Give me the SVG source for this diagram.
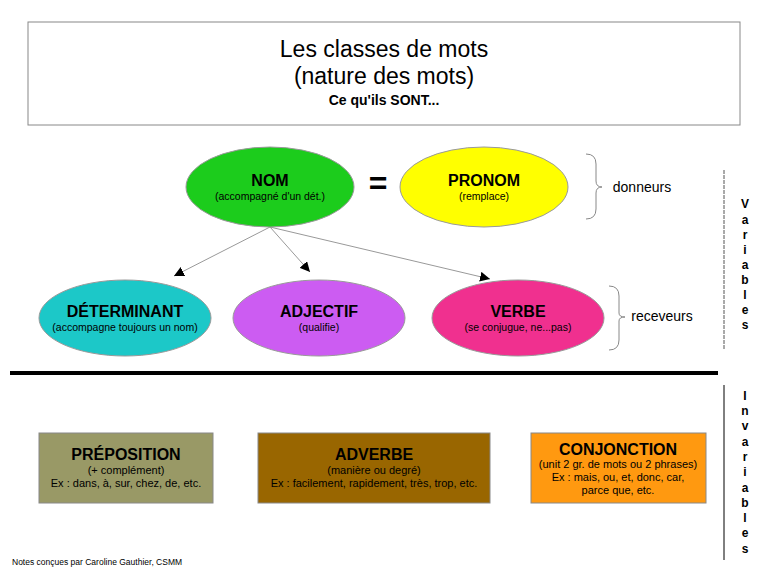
<svg xmlns="http://www.w3.org/2000/svg" width="768" height="575" viewBox="0 0 768 575">
<defs>
<style>
text{font-family:"Liberation Sans",Arial,sans-serif;text-anchor:middle;fill:#000}
.t{font-size:16px;font-weight:bold}
.s{font-size:10.5px}
.b{font-size:11px}
.v{font-size:12px;font-weight:bold}
.br{fill:none;stroke:#888;stroke-width:1}
.e{stroke:#999;stroke-width:1}
.r{stroke:#888;stroke-width:1}
</style>
<marker id="a" viewBox="0 0 10 10" refX="10" refY="5" markerWidth="10" markerHeight="10" orient="auto" markerUnits="userSpaceOnUse"><path d="M0,0L10,5L0,10Z" fill="#000"/></marker>
</defs>
<rect width="768" height="575" fill="#fff"/>
<g id="title">
<rect x="28" y="22" width="712" height="103" fill="#fff" stroke="#888"/>
<text x="384" y="57" style="font-size:23px">Les classes de mots</text>
<text x="384" y="84" style="font-size:23px">(nature des mots)</text>
<text x="384" y="105" style="font-size:14px;font-weight:bold">Ce qu'ils SONT...</text>
</g>
<g id="connectors" stroke="#999" stroke-width="1">
<line x1="270" y1="227" x2="174" y2="276" marker-end="url(#a)"/>
<line x1="270" y1="227" x2="310" y2="272" marker-end="url(#a)"/>
<line x1="270" y1="227" x2="490" y2="279" marker-end="url(#a)"/>
</g>
<g id="nom"><ellipse cx="270" cy="187" rx="84" ry="40" fill="#1ccc1c" class="e"/>
<text x="270" y="186" class="t">NOM</text><text x="270" y="200" class="s">(accompagné d'un dét.)</text></g>
<text x="378" y="194" style="font-size:32px;font-weight:bold">=</text>
<g id="pronom"><ellipse cx="484" cy="187" rx="84" ry="40" fill="#ffff00" class="e"/>
<text x="484" y="186" class="t">PRONOM</text><text x="484" y="200" class="s">(remplace)</text></g>
<g id="determinant"><ellipse cx="125" cy="318" rx="86" ry="38" fill="#1cc8c8" class="e"/>
<text x="125" y="317" class="t">DÉTERMINANT</text><text x="125" y="331" class="s">(accompagne toujours un nom)</text></g>
<g id="adjectif"><ellipse cx="319" cy="318" rx="86" ry="38" fill="#cc5cf2" class="e"/>
<text x="319" y="317" class="t">ADJECTIF</text><text x="319" y="331" class="s">(qualifie)</text></g>
<g id="verbe"><ellipse cx="518" cy="318" rx="86" ry="38" fill="#f0308f" class="e"/>
<text x="518" y="317" class="t">VERBE</text><text x="518" y="331" class="s">(se conjugue, ne...pas)</text></g>
<g id="donneurs"><path class="br" d="M586,154 Q596,154 596,164 L596,181 Q596,187 602,187 Q596,187 596,193 L596,209 Q596,219 586,219"/>
<text x="642" y="192" style="font-size:14px">donneurs</text></g>
<g id="receveurs"><path class="br" d="M609,286 Q619,286 619,296 L619,313 Q619,317 625,317 Q619,317 619,321 L619,340 Q619,350 609,350"/>
<text x="662" y="321" style="font-size:14px">receveurs</text></g>
<line x1="724" y1="170" x2="724" y2="350" stroke="#555" stroke-dasharray="4,1"/>
<g id="variables">
<text x="745" y="208" class="v">V</text><text x="745" y="224" class="v">a</text><text x="745" y="239" class="v">r</text><text x="745" y="254" class="v">i</text><text x="745" y="269" class="v">a</text><text x="745" y="284" class="v">b</text><text x="745" y="299" class="v">l</text><text x="745" y="314" class="v">e</text><text x="745" y="329" class="v">s</text>
</g>
<line x1="10" y1="373" x2="718" y2="373" stroke="#000" stroke-width="4"/>
<line x1="724" y1="385" x2="724" y2="560" stroke="#000"/>
<g id="invariables">
<text x="745" y="400" class="v">I</text><text x="745" y="415" class="v">n</text><text x="745" y="430" class="v">v</text><text x="745" y="446" class="v">a</text><text x="745" y="461" class="v">r</text><text x="745" y="476" class="v">i</text><text x="745" y="492" class="v">a</text><text x="745" y="507" class="v">b</text><text x="745" y="522" class="v">l</text><text x="745" y="537" class="v">e</text><text x="745" y="553" class="v">s</text>
</g>
<g id="preposition"><rect x="39" y="433" width="174" height="70" fill="#999966" class="r"/>
<text x="126" y="460" class="t">PRÉPOSITION</text><text x="126" y="474" class="b">(+ complément)</text><text x="126" y="487" class="b">Ex : dans, à, sur, chez, de, etc.</text></g>
<g id="adverbe"><rect x="258" y="433" width="232" height="70" fill="#996600" class="r"/>
<text x="374" y="460" class="t">ADVERBE</text><text x="374" y="474" class="b">(manière ou degré)</text><text x="374" y="487" class="b">Ex : facilement, rapidement, très, trop, etc.</text></g>
<g id="conjonction"><rect x="531" y="433" width="175" height="70" fill="#ff9910" class="r"/>
<text x="618" y="455" class="t">CONJONCTION</text><text x="618" y="468" class="b">(unit 2 gr. de mots ou 2 phrases)</text><text x="618" y="481" class="b">Ex : mais, ou, et, donc, car,</text><text x="618" y="494" class="b">parce que, etc.</text></g>
<text x="12" y="565" style="font-size:8.5px;text-anchor:start">Notes conçues par Caroline Gauthier, CSMM</text>
</svg>
